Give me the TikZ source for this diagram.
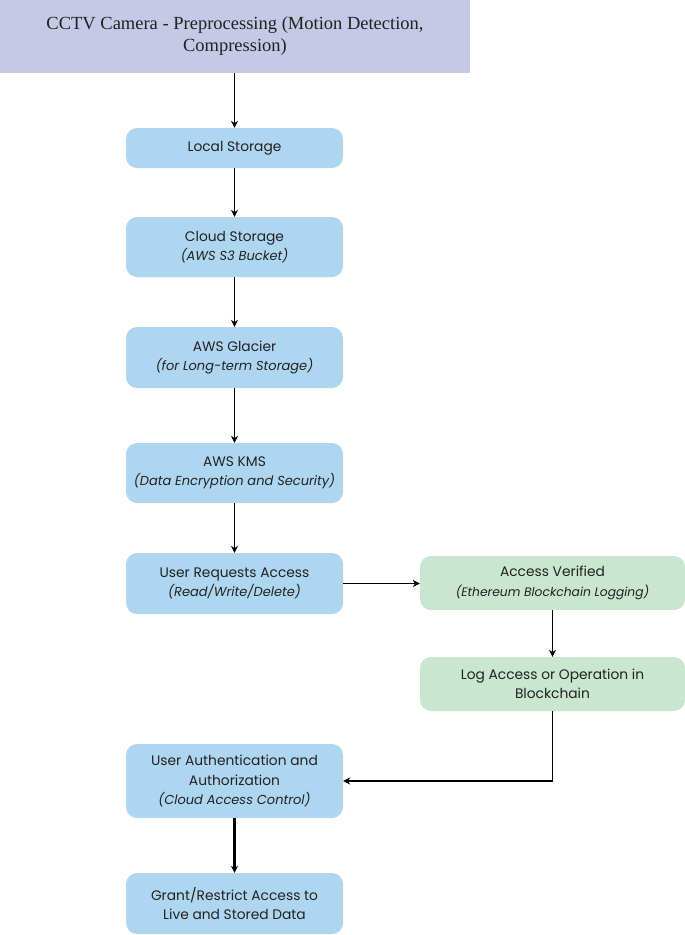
\documentclass[tikz,border=0pt]{standalone}
\usepackage{fontspec}
\setmainfont{Poppins}
\newfontfamily\serifhead{Liberation Serif}
\usetikzlibrary{arrows.meta,positioning}
\definecolor{boxblue}{HTML}{AED6F0}
\definecolor{boxgreen}{HTML}{C9E6D1}
\definecolor{boxlav}{HTML}{C6C9E5}
\definecolor{txt}{HTML}{222222}
\newcommand{\subt}[1]{{\fontsize{13}{19.5}\selectfont\itshape #1}}
\tikzset{
  bluebox/.style={draw=none, fill=boxblue, rounded corners=11pt, minimum width=217pt, align=center, font=\fontsize{13.8}{19.5}\selectfont, text=txt, inner sep=0pt},
  greenbox/.style={draw=none, fill=boxgreen, rounded corners=11pt, minimum width=265pt, align=center, font=\fontsize{13.8}{19.5}\selectfont, text=txt, inner sep=0pt},
  flow/.style={-{Stealth[length=7pt,width=7pt]}, line width=1.7pt, black},
}
\begin{document}
\begin{tikzpicture}[x=1pt,y=-1pt]
\useasboundingbox (0,0) rectangle (685,935);
\node[fill=boxlav, minimum width=470pt, minimum height=73pt, align=center, font=\serifhead\fontsize{18.5}{22}\selectfont, text=txt, inner sep=0pt] (cam) at (235,36.5) {CCTV Camera - Preprocessing (Motion Detection,\\Compression)};
\node[bluebox, minimum height=40pt] (local) at (234.5,148) {Local Storage};
\node[bluebox, minimum height=60pt] (cloud) at (234.5,247) {Cloud Storage\\\subt{(AWS S3 Bucket)}};
\node[bluebox, minimum height=61pt] (glacier) at (234.5,357.5) {AWS Glacier\\\subt{(for Long-term Storage)}};
\node[bluebox, minimum height=60pt] (kms) at (234.5,473) {AWS KMS\\\subt{(Data Encryption and Security)}};
\node[bluebox, minimum height=61pt] (req) at (234.5,583.5) {User Requests Access\\\subt{(Read/Write/Delete)}};
\node[greenbox, minimum height=54pt] (ver) at (552.5,583) {Access Verified\\{\fontsize{12.3}{16}\selectfont\itshape (Ethereum Blockchain Logging)}};
\node[greenbox, minimum height=54pt] (log) at (552.5,684) {Log Access or Operation in\\Blockchain};
\node[bluebox, minimum height=74pt] (auth) at (234.5,781) {User Authentication and\\Authorization\\\subt{(Cloud Access Control)}};
\node[bluebox, minimum height=61pt] (grant) at (234.5,903.5) {Grant/Restrict Access to\\Live and Stored Data};
\draw[flow] (cam.south -| local.north) -- (local.north);
\draw[flow] (local) -- (cloud);
\draw[flow] (cloud) -- (glacier);
\draw[flow] (glacier) -- (kms);
\draw[flow] (kms) -- (req);
\draw[flow] (req.east) -- (ver.west |- req.east);
\draw[flow] (ver) -- (log);
\draw[flow] (log.south) |- (auth.east);
\draw[flow, line width=2.3pt] (auth) -- (grant);
\end{tikzpicture}
\end{document}
